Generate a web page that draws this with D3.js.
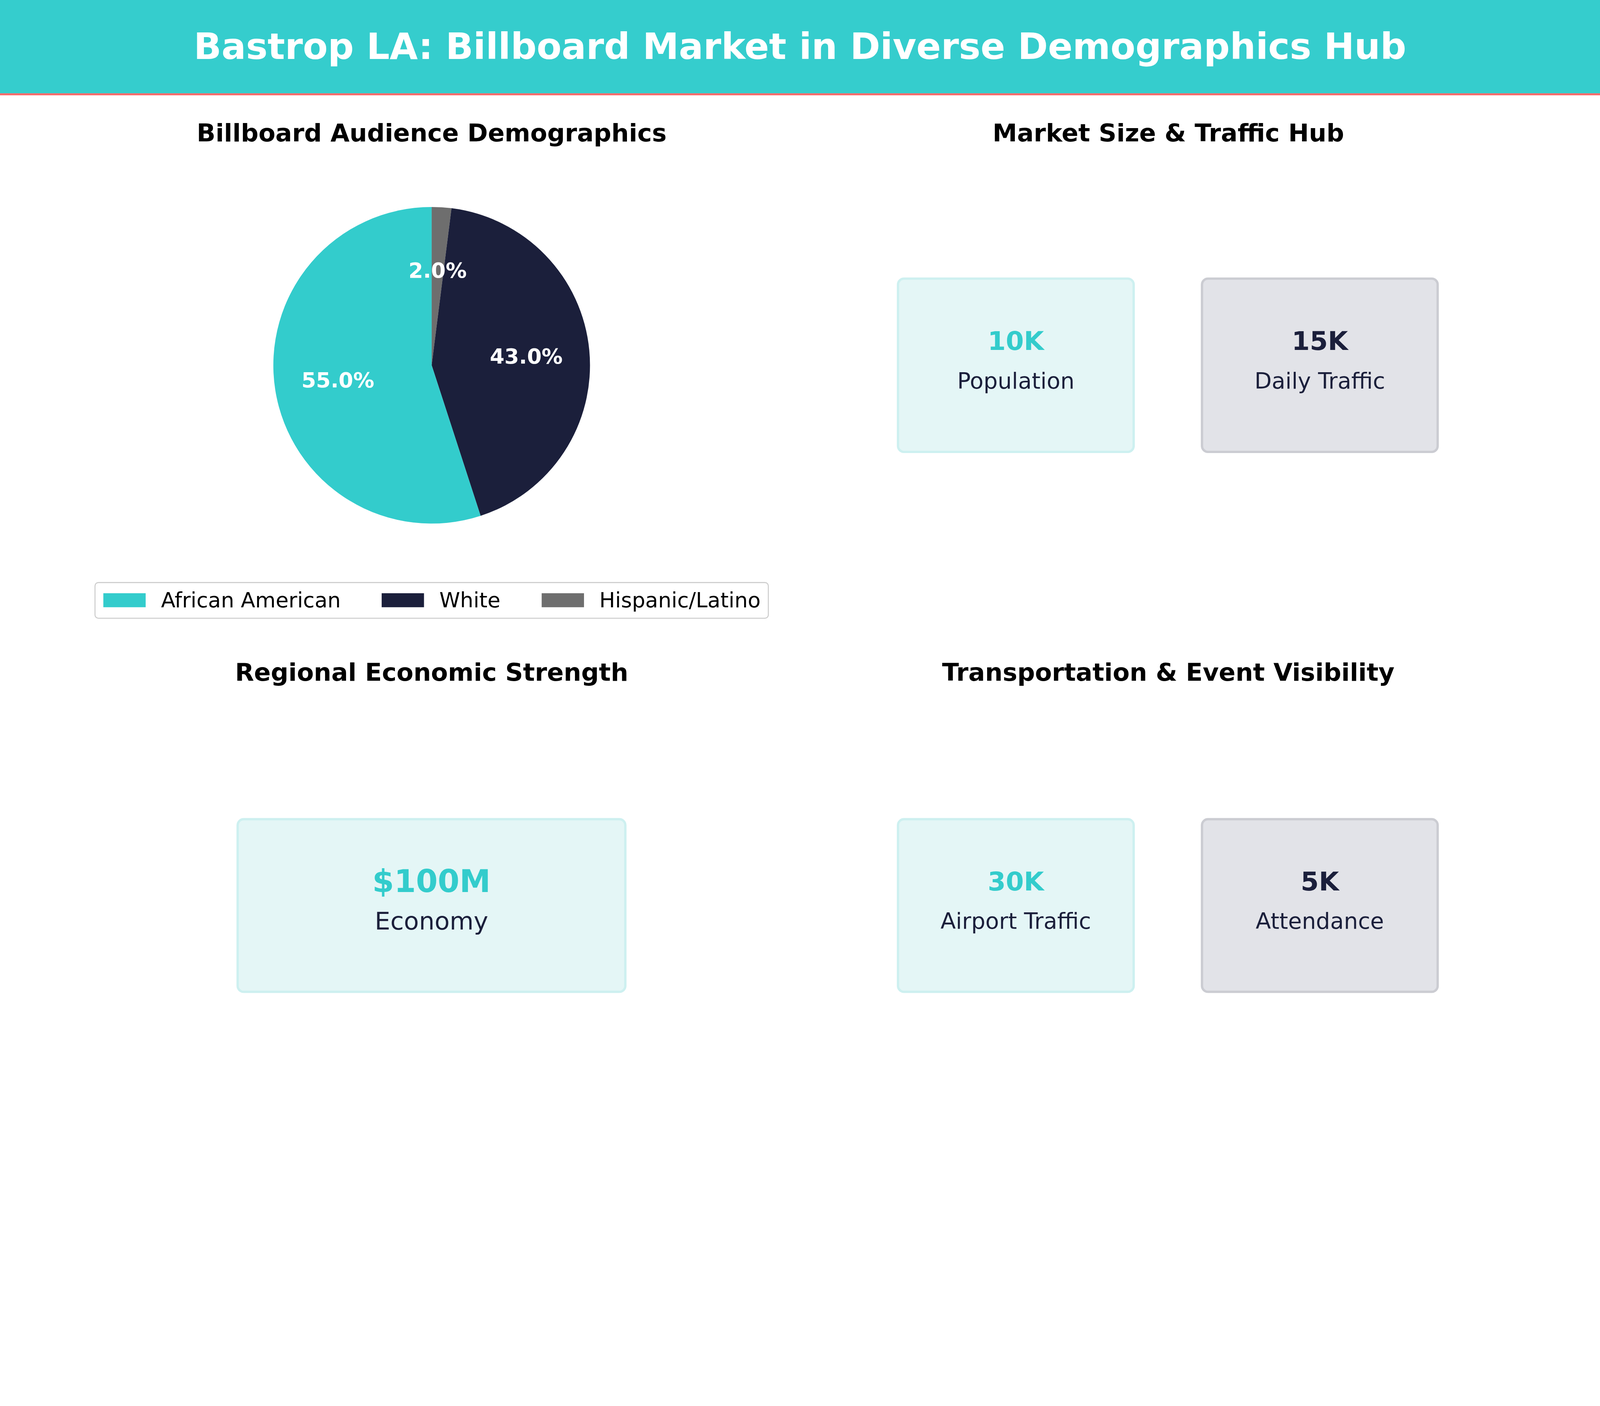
<!DOCTYPE html>
<html>
<head>
<meta charset="utf-8">
<script src="https://cdn.jsdelivr.net/npm/d3@7"></script>
<style>
	html, body { margin: 0; padding: 0; background: #fff; overflow: hidden; }
	svg { display: block; width: 100vw; height: auto; }
	text { font-family: "DejaVu Sans", sans-serif; }
</style>
</head>
<body>
<svg id="chart" viewBox="0 0 4800 3600" preserveAspectRatio="xMidYMin meet"></svg>
<script>
var title = "Bastrop LA: Billboard Market in Diverse Demographics Hub",
	panelTitles = ["Billboard Audience Demographics", "Market Size & Traffic Hub",
		"Regional Economic Strength", "Transportation & Event Visibility"],
	demoLabels = ["African American", "White", "Hispanic/Latino"],
	demoValues = [55, 43, 2],
	demoColors = ["#33cccc", "#1b1f3b", "#6e6e6e"],
	marketValues = ["10K", "15K"],
	marketLabels = ["Population", "Daily Traffic"],
	economyValues = ["$100M"],
	economyLabels = ["Economy"],
	transportValues = ["30K", "5K"],
	transportLabels = ["Airport Traffic", "Attendance"];

var svg = d3.select("#chart");
var teal = "#33cccc", navy = "#1b1f3b";

// header
svg.append("rect").attr("width", 4800).attr("height", 282).attr("fill", "#35cdcd");
svg.append("rect").attr("y", 280).attr("width", 4800).attr("height", 6).attr("fill", "#ff6b6b");
svg.append("text").attr("x", 2400).attr("y", 140).attr("text-anchor", "middle")
	.attr("dominant-baseline", "central").attr("fill", "#fff")
	.attr("font-size", 109).attr("font-weight", "bold").text(title);

// panel titles
var titlePos = [[1295, 398], [3505, 398], [1295, 2017], [3505, 2017]];
panelTitles.forEach(function (t, i) {
	svg.append("text").attr("x", titlePos[i][0]).attr("y", titlePos[i][1])
		.attr("text-anchor", "middle").attr("dominant-baseline", "central")
		.attr("font-size", 74).attr("font-weight", "bold").text(t);
});

// pie
var pieG = svg.append("g").attr("transform", "translate(1295,1096)"),
	radius = 475;
var pie = d3.pie().sort(null).startAngle(0).endAngle(2 * Math.PI);
var idx = d3.range(demoValues.length).reverse();
var arcs = pie(idx.map(function (i) { return demoValues[i]; }));
arcs.forEach(function (a, k) { a.idx = idx[k]; });
var arc = d3.arc().innerRadius(0).outerRadius(radius),
	labelArc = d3.arc().innerRadius(radius * 0.6).outerRadius(radius * 0.6);
pieG.selectAll("path").data(arcs).join("path")
	.attr("d", arc).attr("fill", function (d) { return demoColors[d.idx]; });
pieG.selectAll("text").data(arcs).join("text")
	.attr("transform", function (d) { return "translate(" + labelArc.centroid(d) + ")"; })
	.attr("text-anchor", "middle").attr("dominant-baseline", "central")
	.attr("fill", "#fff").attr("font-size", 63).attr("font-weight", "bold")
	.text(function (d) { return demoValues[d.idx].toFixed(1) + "%"; });

// legend
svg.append("rect").attr("x", 285).attr("y", 1748).attr("width", 2020).attr("height", 107)
	.attr("rx", 10).attr("fill", "#fff").attr("stroke", "#cccccc").attr("stroke-width", 3);
var legX = [310, 1145, 1625];
demoLabels.forEach(function (l, i) {
	svg.append("rect").attr("x", legX[i]).attr("y", 1780).attr("width", 127).attr("height", 42)
		.attr("fill", demoColors[i]);
	svg.append("text").attr("x", legX[i] + 173).attr("y", 1801)
		.attr("dominant-baseline", "central").attr("font-size", 63).text(l);
});

// cards
function card(x, y, w, h, value, label, color, big) {
	var light = color === teal;
	svg.append("rect").attr("x", x).attr("y", y).attr("width", w).attr("height", h)
		.attr("rx", 18).attr("fill", light ? "#e4f6f6" : "#e2e3e8")
		.attr("stroke", light ? "#cdf0f0" : "#cbccd2").attr("stroke-width", 7);
	svg.append("text").attr("x", x + w / 2).attr("y", y + h * 0.36)
		.attr("text-anchor", "middle").attr("dominant-baseline", "central")
		.attr("fill", color).attr("font-weight", "bold").attr("font-size", big ? 94 : 78).text(value);
	svg.append("text").attr("x", x + w / 2).attr("y", y + h * 0.59)
		.attr("text-anchor", "middle").attr("dominant-baseline", "central")
		.attr("fill", navy).attr("font-size", big ? 74 : 67).text(label);
}
var colors2 = [teal, navy], cardX = [2694, 3606];
marketValues.forEach(function (v, i) {
	card(cardX[i], 836, 707, 520, v, marketLabels[i], colors2[i], false);
});
transportValues.forEach(function (v, i) {
	card(cardX[i], 2458, 707, 518, v, transportLabels[i], colors2[i], false);
});
card(713, 2458, 1163, 518, economyValues[0], economyLabels[0], teal, true);
</script>
</body>
</html>
